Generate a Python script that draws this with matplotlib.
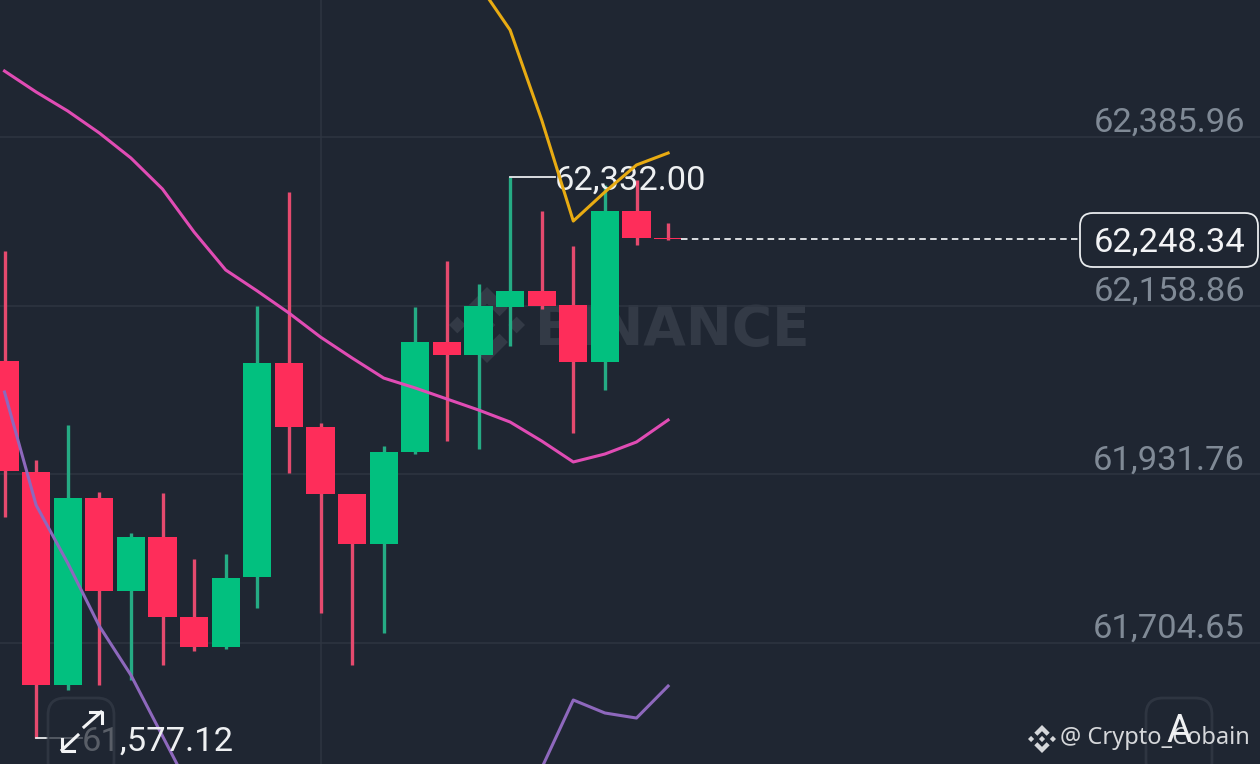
import numpy as np
import matplotlib
matplotlib.use("Agg")
import matplotlib.pyplot as plt
from matplotlib.patches import FancyBboxPatch, Polygon

BG = "#1f2632"; GRID = "#2e3541"; RED = "#fe2d5a"; GREEN = "#02c07f"
RED_W = "#e54a6e"; GREEN_W = "#25ab84"; LABEL = "#808a96"; MARK = "#333a46"

opens = [62084.3, 61934.9, 61648.0, 61899.8, 61774.6, 61847.3, 61739.6, 61699.2, 61793.5, 62081.6, 61995.4,
         61905.2, 61837.9, 61961.8, 62109.9, 62092.4, 62157.0, 62178.6, 62159.7, 62083.0, 62286.3, 62249.9]
highs = [62232.5, 61951.0, 61998.1, 61907.9, 61852.7, 61906.6, 61817.7, 61824.4, 62158.4, 62311.9, 62000.8,
         61905.2, 61969.9, 62157.0, 62219.0, 62188.0, 62332.0, 62286.3, 62239.2, 62321.3, 62328.0, 62270.1]
lows = [61874.3, 61577.1, 61641.3, 61648.0, 61654.8, 61675.0, 61693.8, 61696.5, 61751.7, 61933.5, 61745.0,
        61675.0, 61718.1, 61959.1, 61976.6, 61965.8, 62104.5, 62154.3, 61987.4, 62045.3, 62240.5, 62247.2]
closes = [61936.2, 61648.0, 61899.8, 61774.6, 61847.3, 61739.6, 61699.2, 61792.1, 62081.6, 61995.4, 61905.2,
          61837.9, 61961.8, 62109.9, 62092.4, 62158.4, 62178.6, 62158.4, 62083.0, 62286.3, 62249.9, 62248.3]
ma_pink = [62474.8, 62446.6, 62421.0, 62391.4, 62357.7, 62315.9, 62258.0, 62206.9, 62178.6, 62149.0, 62116.6,
           62088.4, 62061.4, 62048.0, 62033.2, 62018.4, 62002.2, 61976.6, 61948.4, 61959.1, 61975.3, 62004.9]
ma_yellow = [np.nan] * 15 + [62592.0, 62530.0, 62408.9, 62272.8, 62311.9, 62348.3, 62364.4]
ma_purple = [62042.6, 61890.4, 61812.4, 61727.5, 61661.5, 61579.4, 61497.3] + [np.nan] * 9 + \
            [61439.4, 61536.3, 61627.9, 61610.4, 61603.6, 61646.7]
tick_values = [62385.96, 62158.86, 61931.76, 61704.65]
tick_labels = ["62,385.96", "62,158.86", "61,931.76", "61,704.65"]
last_price = 62248.34
max_price = 62332.00
min_price = 61577.12

W, H = 1260, 764
FS = 24.8
plt.rcParams["font.family"] = ["Roboto", "DejaVu Sans"]
fig = plt.figure(figsize=(W / 100, H / 100), dpi=100, facecolor=BG)


def logo(axis, cx, cy, R, color):
    """Binance diamond mark in pixel coordinates."""
    for sign in (-1, 1):
        pts = [(0, -1), (0.55, -0.45), (0.33, -0.23), (0, -0.56), (-0.33, -0.23), (-0.55, -0.45)]
        axis.add_patch(Polygon([(cx + R * a, cy + sign * R * b) for a, b in pts], color=color, lw=0))
    for dx in (-0.78, 0, 0.78):
        r = 0.22 * R
        x = cx + dx * R
        axis.add_patch(Polygon([(x - r, cy), (x, cy - r), (x + r, cy), (x, cy + r)], color=color, lw=0))


under = fig.add_axes([0, 0, 1, 1], zorder=0)
under.set_xlim(0, W); under.set_ylim(H, 0); under.axis("off")

ax = fig.add_axes([0, 0, 1, 1], zorder=1)
ax.patch.set_alpha(0)
per_px = (tick_values[0] - tick_values[3]) / (643 - 137)
ax.set_ylim(tick_values[0] - (H - 137) * per_px, tick_values[0] + 137 * per_px)
step, x0 = 31.6, 4.5
ax.set_xlim(-x0 / step, (W - x0) / step)
ax.axis("off")

for v in tick_values:
    ax.axhline(v, color=GRID, lw=1.1, zorder=1)
ax.axvline(10, color=GRID, lw=1.1, zorder=1)

logo(under, 487, 325, 38, MARK)
under.text(535, 330, "BINANCE", color=MARK, fontsize=39.6, fontweight="bold", va="center", ha="left",
           family="DejaVu Sans", zorder=2)

idx = np.arange(len(opens))
o, h, l, c = map(np.array, (opens, highs, lows, closes))
up = c > o
ax.vlines(idx[up], l[up], h[up], color=GREEN_W, lw=2.4, zorder=2)
ax.vlines(idx[~up], l[~up], h[~up], color=RED_W, lw=2.4, zorder=2)
ax.bar(idx[up], (c - o)[up], bottom=o[up], width=0.89, color=GREEN, lw=0, zorder=3)
ax.bar(idx[~up], (o - c)[~up], bottom=c[~up], width=0.89, color=RED, lw=0, zorder=3)

ax.plot(idx, ma_pink, color="#e04cb4", lw=2.2, zorder=4)
ax.plot(idx, ma_purple, color="#8e68bd", lw=2.2, zorder=4)

for v, t in zip(tick_values, tick_labels):
    ax.annotate(t, (1245 / W, v), xycoords=("figure fraction", "data"), xytext=(0, 12.5),
                textcoords="offset points", ha="right", va="center_baseline", color=LABEL, fontsize=FS, zorder=5)

ax.plot([21.42, (1080 - x0) / step], [last_price, last_price], color="#e8ebee", lw=1.3,
        ls=(0, (3.6, 2.4)), zorder=5)
ax.annotate("62,248.34", (1245 / W, last_price), xycoords=("figure fraction", "data"), ha="right",
            va="center_baseline", xytext=(0, 0), textcoords="offset points", color="#f2f3f5", fontsize=FS, zorder=7)

ax.plot([16, (555 - x0) / step], [max_price, max_price], color="#e8ebee", lw=1.3, zorder=5)
ax.annotate(f"{max_price:,.2f}", ((555 - x0) / step, max_price), xytext=(0, 0), textcoords="offset points",
            color="#eef0f2", fontsize=FS, va="center_baseline", ha="left", zorder=5)
ax.plot([1, (82 - x0) / step], [min_price, min_price], color="#e8ebee", lw=1.3, zorder=5)
ax.annotate(f"{min_price:,.2f}", ((82 - x0) / step, min_price), xytext=(0, -0.3), textcoords="offset points",
            color="#eef0f2", fontsize=FS, va="center_baseline", ha="left", zorder=5)
ax.plot(idx, ma_yellow, color="#e8ab12", lw=2.2, zorder=6)

top = fig.add_axes([0, 0, 1, 1], zorder=2)
top.patch.set_alpha(0)
top.set_xlim(0, W); top.set_ylim(H, 0); top.axis("off")
top.add_patch(FancyBboxPatch((1080, 213), 178, 54, boxstyle="round,pad=0,rounding_size=13",
                             fc="none", ec="#e8ebee", lw=1.3))
for bx in (48, 1146):
    top.add_patch(FancyBboxPatch((bx, 698), 66, 80, boxstyle="round,pad=0,rounding_size=17",
                                 fc=BG, ec="#343b47", lw=2, alpha=0.72))
ICON = "#f2f3f5"
top.plot([84, 101], [727, 712], color=ICON, lw=2.2)
top.plot([90, 101.5, 101.5], [711.5, 711.5, 723], color=ICON, lw=2.2)
top.plot([78, 62], [735, 750], color=ICON, lw=2.2)
top.plot([62, 62, 73.5], [739, 750.5, 750.5], color=ICON, lw=2.2)
top.text(1179, 731, "A", color="#f0f1f3", fontsize=28, ha="center", va="center", zorder=8)
top.text(1250, 738, "@ Crypto_Cobain", color="#d5d7da", fontsize=17, ha="right", va="center",
         family="Noto Sans", zorder=7)
logo(top, 1042, 739, 14, "#d5d7da")

fig.savefig("out.png", dpi=100, facecolor=BG)
